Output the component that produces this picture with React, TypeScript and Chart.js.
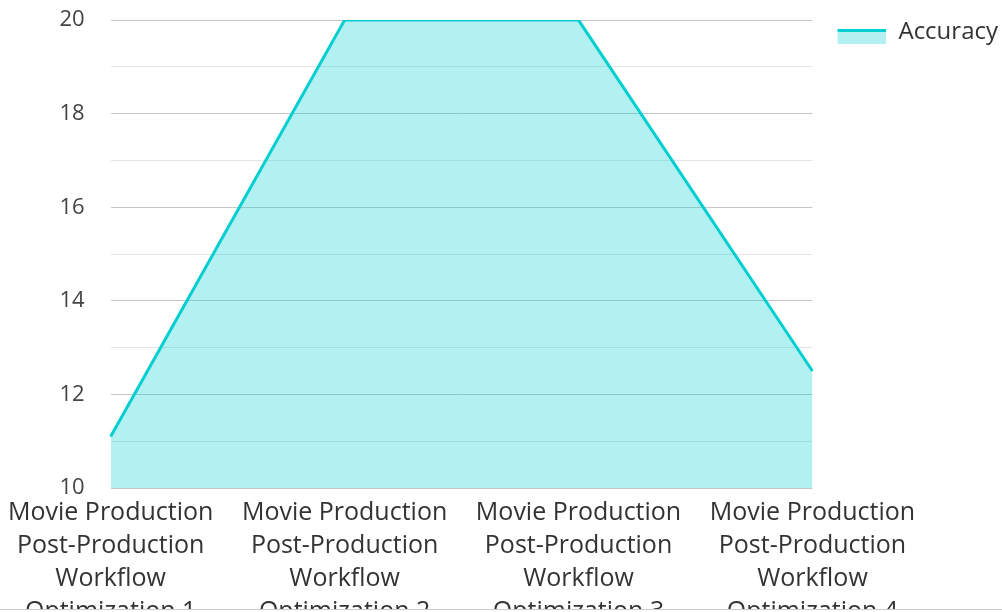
import React, { useEffect, useRef } from "react";
import { Chart, registerables } from "chart.js";

Chart.register(...registerables);

const categories: string[][] = [
  ["Movie Production", "Post-Production", "Workflow", "Optimization 1"],
  ["Movie Production", "Post-Production", "Workflow", "Optimization 2"],
  ["Movie Production", "Post-Production", "Workflow", "Optimization 3"],
  ["Movie Production", "Post-Production", "Workflow", "Optimization 4"],
];
const accuracy: number[] = [11.1, 20, 20, 12.5];
const seriesName = "Accuracy";
const yMin = 10;
const yMax = 20;

const LINE = "rgb(0, 206, 209)";
const FILL = "rgba(0, 206, 209, 0.3)";

export default function App() {
  const ref = useRef<HTMLCanvasElement>(null);

  useEffect(() => {
    if (!ref.current) return;
    // legend icon: transparent lead-in, then an area swatch with a top line
    const icon = document.createElement("canvas");
    icon.width = 62;
    icon.height = 28;
    const ic = icon.getContext("2d")!;
    ic.fillStyle = FILL;
    ic.fillRect(13, 11, 49, 15);
    ic.fillStyle = LINE;
    ic.fillRect(13, 11, 49, 3);

    const chart = new Chart(ref.current, {
      type: "line",
      data: {
        labels: categories,
        datasets: [
          {
            label: seriesName,
            data: accuracy,
            borderColor: LINE,
            backgroundColor: FILL,
            borderWidth: 3,
            fill: "start",
            pointRadius: 0,
            pointHoverRadius: 0,
            tension: 0,
          },
        ],
      },
      options: {
        responsive: false,
        animation: false,
        plugins: {
          legend: {
            position: "right",
            align: "start",
            labels: {
              usePointStyle: true,
              pointStyle: icon as any,
              pointStyleWidth: 62,
              boxHeight: 24,
              color: "#333",
              font: { family: "'Open Sans'", size: 24 },
              padding: 12,
            },
          },
          tooltip: { enabled: false },
        },
        scales: {
          x: {
            grid: { display: false },
            border: { display: false },
            ticks: {
              autoSkip: false,
              maxRotation: 0,
              color: "#333",
              padding: 0,
              font: { family: "'Open Sans'", size: 25, lineHeight: 1.32 },
            },
          },
          y: {
            min: yMin,
            max: yMax,
            border: { display: false },
            grid: {
              drawTicks: true,
              tickLength: 26,
              tickColor: "rgba(0,0,0,0)",
              color: (ctx: any) =>
                ctx.tick && ctx.tick.value % 2 === 0 ? "#c6c6c6" : "#e4e4e4",
            },
            ticks: {
              stepSize: 1,
              color: "#444",
              padding: 0,
              font: { family: "'Open Sans'", size: 22, lineHeight: 1.1 },
              callback: (v: any) => (Number(v) % 2 === 0 ? String(v) : ""),
            },
          },
        },
      },
    });
    return () => chart.destroy();
  }, []);

  return (
    <>
      <div
        style={{
          position: "fixed",
          top: 8,
          left: 8,
          width: 994,
          height: 601,
          overflow: "hidden",
        }}
      >
        <canvas ref={ref} width={1000} height={620} style={{ display: "block" }} />
      </div>
      <div
        style={{
          position: "fixed",
          top: 609,
          left: 0,
          right: 0,
          height: 1,
          background: "#cccccc",
        }}
      />
    </>
  );
}
